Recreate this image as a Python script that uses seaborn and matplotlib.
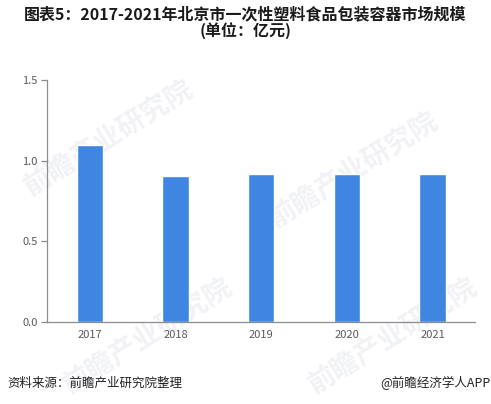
import matplotlib
matplotlib.use("Agg")
import matplotlib.pyplot as plt
import seaborn as sns
import pandas as pd

# data
years = ["2017", "2018", "2019", "2020", "2021"]
values = [1.10, 0.905, 0.92, 0.92, 0.92]
y_ticks = [0.0, 0.5, 1.0, 1.5]

title = "图表5：2017-2021年北京市一次性塑料食品包装容器市场规模\n(单位：亿元)"
source = "资料来源：前瞻产业研究院整理"
brand = "@前瞻经济学人APP"
watermark = "前瞻产业研究院"

sns.set_theme(style="white")
plt.rcParams['font.family'] = ['Noto Sans CJK SC', 'DejaVu Sans']

df = pd.DataFrame({"year": years, "value": values})

fig = plt.figure(figsize=(4.91, 4.04), dpi=100)
ax = fig.add_axes([0.096, 0.203, 0.872, 0.599])
ax.set_zorder(2)
ax.patch.set_alpha(0)

# faint watermarks behind the bars
for (wx, wy) in [(0.22, 0.66), (0.72, 0.58), (0.30, 0.17), (0.80, 0.17)]:
	fig.text(wx, wy, watermark, rotation=32, fontsize=20, fontweight="bold",
		color="#f1f2f5", ha="center", va="center", zorder=-1)

sns.barplot(data=df, x="year", y="value", color="#3f86e0", saturation=1,
	width=0.31, ax=ax, zorder=2)

ax.set_ylim(0, 1.5)
ax.set_yticks(y_ticks)
ax.set_yticklabels([f"{t:.1f}" for t in y_ticks])
ax.set_xlabel("")
ax.set_ylabel("")
ax.set_xlim(-0.5, len(years) - 0.5)

for s in ["top", "right"]:
	ax.spines[s].set_visible(False)
for s in ["left", "bottom"]:
	ax.spines[s].set_color("#8c8c8c")
	ax.spines[s].set_linewidth(0.9)

ax.tick_params(axis="y", length=4, width=0.9, color="#8c8c8c", labelsize=8,
	labelcolor="#595959", pad=3, left=True)
ax.tick_params(axis="x", length=0, labelsize=8, labelcolor="#595959", pad=6)

fig.text(0.5, 0.985, title, ha="center", va="top", fontsize=11.5,
	fontweight="bold", color="#1a1a1a", linespacing=1.0)
fig.text(0.016, 0.052, source, ha="left", va="center", fontsize=9, color="#222222")
fig.text(0.998, 0.052, brand, ha="right", va="center", fontsize=9, color="#222222")

fig.savefig("out.png", dpi=100)
